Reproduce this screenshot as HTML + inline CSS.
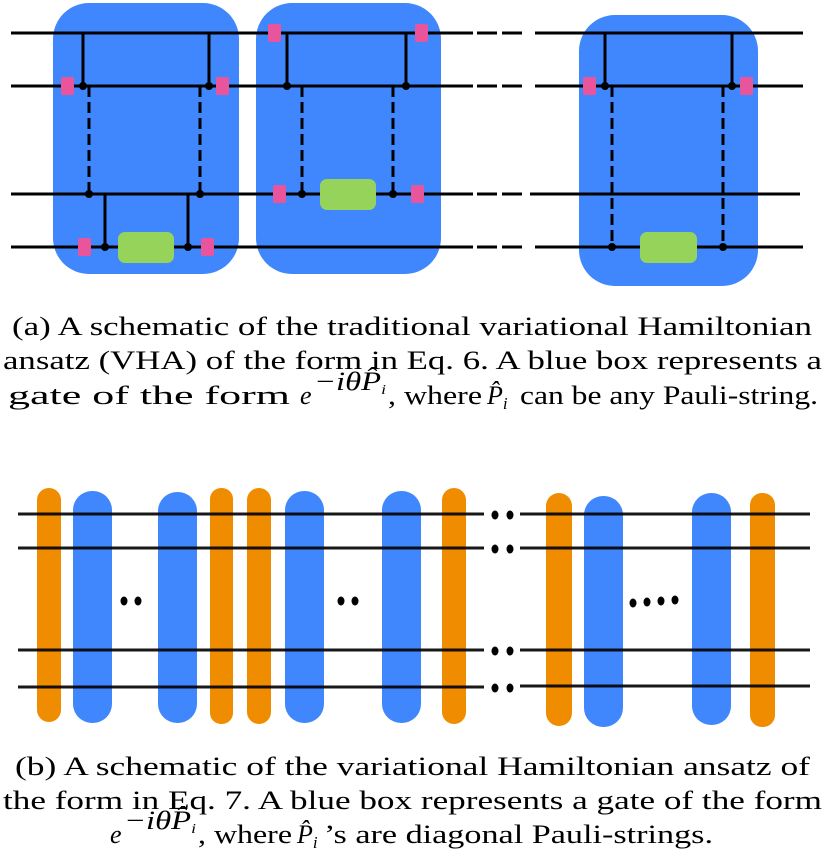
<!DOCTYPE html>
<html><head><meta charset="utf-8"><style>
html,body{margin:0;padding:0;background:#fff;}
svg{display:block;}
text{font-family:"Liberation Serif",serif;font-size:26px;fill:#000;}
</style></head><body>
<svg width="825" height="856" viewBox="0 0 825 856" xmlns="http://www.w3.org/2000/svg">
<g fill="#4087fd">
<rect x="53" y="3" width="186" height="271" rx="36"/>
<rect x="256" y="3" width="185" height="271" rx="36"/>
<rect x="579" y="15" width="179" height="271" rx="36"/>
</g>
<g stroke="#000" stroke-width="3" fill="none">
<line x1="11" y1="33" x2="473" y2="33"/>
<line x1="11" y1="86" x2="473" y2="86"/>
<line x1="11" y1="194" x2="473" y2="194"/>
<line x1="11" y1="247" x2="473" y2="247"/>
<g stroke-dasharray="20,5">
<line x1="477" y1="33" x2="527" y2="33"/>
<line x1="477" y1="86" x2="527" y2="86"/>
<line x1="477" y1="194" x2="527" y2="194"/>
<line x1="477" y1="247" x2="527" y2="247"/>
</g>
<line x1="535" y1="33" x2="803" y2="33"/>
<line x1="535" y1="86" x2="803" y2="86"/>
<line x1="530" y1="194" x2="800" y2="194"/>
<line x1="535" y1="247" x2="803" y2="247"/>
<line x1="83" y1="33" x2="83" y2="86"/>
<line x1="209" y1="33" x2="209" y2="86"/>
<line x1="105" y1="194" x2="105" y2="247"/>
<line x1="188" y1="194" x2="188" y2="247"/>
<line x1="287" y1="33" x2="287" y2="86"/>
<line x1="406" y1="33" x2="406" y2="86"/>
<line x1="605" y1="33" x2="605" y2="86"/>
<line x1="732" y1="33" x2="732" y2="86"/>
<g stroke-dasharray="11,5">
<line x1="89" y1="86" x2="89" y2="194"/>
<line x1="200" y1="86" x2="200" y2="194"/>
<line x1="302" y1="86" x2="302" y2="194"/>
<line x1="393" y1="86" x2="393" y2="194"/>
<line x1="612" y1="86" x2="612" y2="247"/>
<line x1="723" y1="86" x2="723" y2="247"/>
</g>
</g>
<g fill="#000">
<circle cx="83" cy="86" r="4"/><circle cx="209" cy="86" r="4"/>
<circle cx="89" cy="194" r="4"/><circle cx="200" cy="194" r="4"/>
<circle cx="105" cy="247" r="4"/><circle cx="188" cy="247" r="4"/>
<circle cx="287" cy="86" r="4"/><circle cx="406" cy="86" r="4"/>
<circle cx="302" cy="194" r="4"/><circle cx="393" cy="194" r="4"/>
<circle cx="605" cy="86" r="4"/><circle cx="732" cy="86" r="4"/>
<circle cx="612" cy="247" r="4"/><circle cx="723" cy="247" r="4"/>
</g>
<g fill="#e9559c">
<rect x="61" y="77" width="13" height="18" rx="2"/>
<rect x="216" y="77" width="13" height="18" rx="2"/>
<rect x="78" y="238" width="13" height="18" rx="2"/>
<rect x="201" y="238" width="13" height="18" rx="2"/>
<rect x="268" y="24" width="13" height="18" rx="2"/>
<rect x="415" y="24" width="13" height="18" rx="2"/>
<rect x="273" y="185" width="13" height="18" rx="2"/>
<rect x="411" y="185" width="13" height="18" rx="2"/>
<rect x="583" y="77" width="13" height="18" rx="2"/>
<rect x="740" y="77" width="13" height="18" rx="2"/>
</g>
<g fill="#95d35a">
<rect x="118" y="232" width="56" height="31" rx="7"/>
<rect x="320" y="179" width="56" height="31" rx="7"/>
<rect x="640" y="232" width="57" height="31" rx="7"/>
</g>
<text x="12" y="335" textLength="800" lengthAdjust="spacingAndGlyphs">(a) A schematic of the traditional variational Hamiltonian</text>
<text x="3" y="369" textLength="819" lengthAdjust="spacingAndGlyphs">ansatz (VHA) of the form in Eq. 6. A blue box represents a</text>
<text x="8" y="404" textLength="282" lengthAdjust="spacingAndGlyphs">gate of the form</text>
<text x="300" y="404" font-style="italic">e</text>
<text x="314" y="390" font-size="20" font-style="italic" textLength="72" lengthAdjust="spacingAndGlyphs">−iθP̂<tspan font-size="14" dy="4">i</tspan></text>
<text x="388" y="404" textLength="94" lengthAdjust="spacingAndGlyphs">, where</text>
<text x="487" y="404" font-style="italic">P̂<tspan font-size="17" dy="5">i</tspan></text>
<text x="520" y="404" textLength="298" lengthAdjust="spacingAndGlyphs">can be any Pauli-string.</text>
<g fill="#ef8c00">
<rect x="37" y="488" width="24" height="234" rx="12"/>
<rect x="210" y="488" width="23" height="236" rx="11"/>
<rect x="247" y="488" width="24" height="236" rx="12"/>
<rect x="442" y="488" width="24" height="236" rx="12"/>
<rect x="546" y="493" width="26" height="233" rx="13"/>
<rect x="750" y="493" width="25" height="234" rx="12"/>
</g>
<g fill="#4087fd">
<rect x="73" y="491" width="39" height="232" rx="19"/>
<rect x="158" y="492" width="39" height="231" rx="19"/>
<rect x="285" y="491" width="39" height="232" rx="19"/>
<rect x="382" y="491" width="39" height="232" rx="19"/>
<rect x="584" y="496" width="39" height="231" rx="19"/>
<rect x="692" y="493" width="39" height="232" rx="19"/>
</g>
<g stroke="#000" stroke-width="3" opacity="0.9">
<line x1="18" y1="514" x2="484" y2="514"/><line x1="520" y1="514" x2="810" y2="514"/>
<line x1="18" y1="548" x2="484" y2="548"/><line x1="520" y1="548" x2="810" y2="548"/>
<line x1="18" y1="650" x2="484" y2="650"/><line x1="520" y1="650" x2="810" y2="650"/>
<line x1="18" y1="687" x2="484" y2="687"/><line x1="520" y1="686" x2="810" y2="686"/>
</g>
<g fill="#000">
<ellipse cx="495" cy="515" rx="3.5" ry="4.5"/><ellipse cx="510" cy="515" rx="3.5" ry="4.5"/>
<ellipse cx="495" cy="549" rx="3.5" ry="4.5"/><ellipse cx="510" cy="549" rx="3.5" ry="4.5"/>
<ellipse cx="495" cy="651" rx="3.5" ry="4.5"/><ellipse cx="510" cy="651" rx="3.5" ry="4.5"/>
<ellipse cx="495" cy="688" rx="3.5" ry="4.5"/><ellipse cx="510" cy="688" rx="3.5" ry="4.5"/>
<ellipse cx="124" cy="601" rx="3.5" ry="4.5"/><ellipse cx="138" cy="601" rx="3.5" ry="4.5"/>
<ellipse cx="341" cy="601" rx="3.5" ry="4.5"/><ellipse cx="355" cy="601" rx="3.5" ry="4.5"/>
<ellipse cx="633" cy="603" rx="3.5" ry="4.5"/><ellipse cx="647" cy="602" rx="3.5" ry="4.5"/>
<ellipse cx="661" cy="601" rx="3.5" ry="4.5"/><ellipse cx="675" cy="600" rx="3.5" ry="4.5"/>
</g>
<text x="15" y="775" textLength="795" lengthAdjust="spacingAndGlyphs">(b) A schematic of the variational Hamiltonian ansatz of</text>
<text x="3" y="809" textLength="819" lengthAdjust="spacingAndGlyphs">the form in Eq. 7. A blue box represents a gate of the form</text>
<text x="110" y="843" font-style="italic">e</text>
<text x="124" y="829" font-size="20" font-style="italic" textLength="72" lengthAdjust="spacingAndGlyphs">−iθP̂<tspan font-size="14" dy="4">i</tspan></text>
<text x="198" y="843" textLength="94" lengthAdjust="spacingAndGlyphs">, where</text>
<text x="297" y="843" font-style="italic">P̂<tspan font-size="17" dy="5">i</tspan></text>
<text x="324" y="843" textLength="389" lengthAdjust="spacingAndGlyphs">’s are diagonal Pauli-strings.</text>
</svg>
</body></html>
